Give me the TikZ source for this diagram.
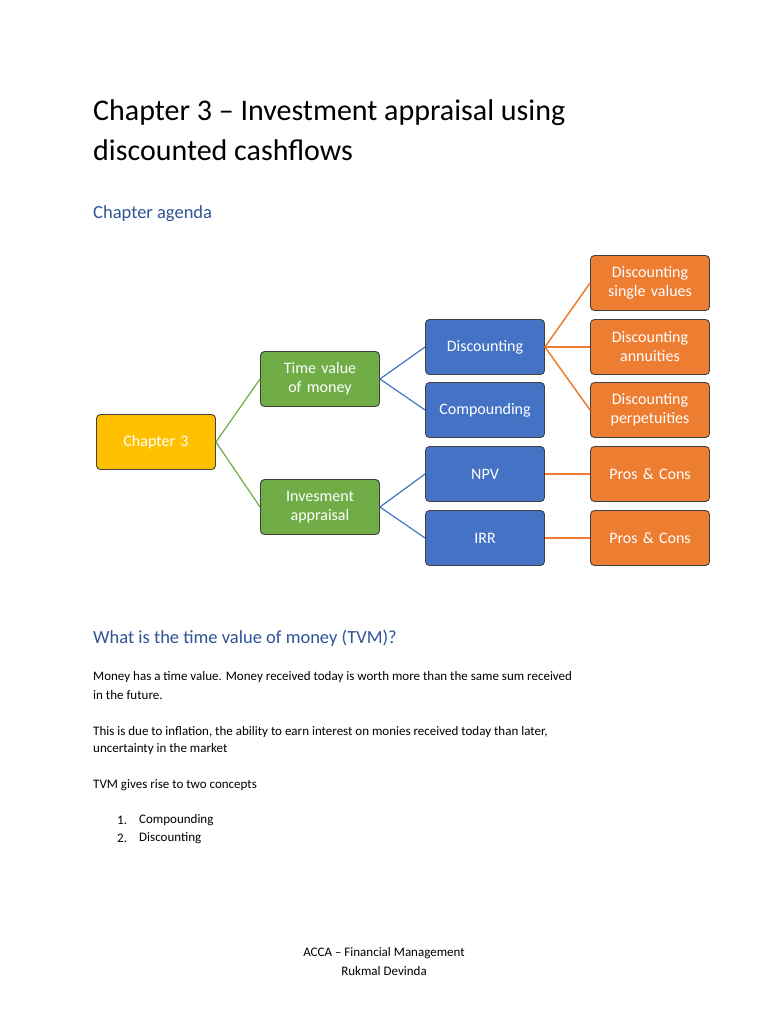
\documentclass[tikz,border=0pt]{standalone}
\usepackage{fontspec}
\setmainfont{Carlito}
\begin{document}
\begin{tikzpicture}[x=1pt,y=-1pt,
  box/.style={draw=black!75,line width=0.9pt,rounded corners=4pt,minimum width=119pt,minimum height=55pt,
    text width=112pt,align=center,text=white,font=\fontsize{16}{19}\selectfont,inner sep=1pt},
  yel/.style={box,fill=yellow!60!orange!95!white},
  grn/.style={box,fill={rgb,255:red,112;green,173;blue,71}},
  blu/.style={box,fill={rgb,255:red,68;green,114;blue,196}},
  org/.style={box,fill={rgb,255:red,237;green,125;blue,49}},
  gl/.style={draw={rgb,255:red,112;green,173;blue,71},line width=1.2pt},
  bl/.style={draw={rgb,255:red,68;green,114;blue,196},line width=1.2pt},
  ol/.style={draw={rgb,255:red,237;green,125;blue,49},line width=1.5pt},
  body/.style={anchor=west,font=\fontsize{13}{16}\selectfont,inner sep=0pt},
  head/.style={anchor=west,font=\fontsize{18.5}{22}\selectfont,text={rgb,255:red,47;green,84;blue,150},inner sep=0pt}]
\useasboundingbox[fill=white] (0,0) rectangle (768,1024);
\node[anchor=west,font=\fontsize{30}{40}\selectfont,align=left,inner sep=0pt] (title) at (93,130) {Chapter 3 – Investment appraisal using\\discounted cashflows};
\node[head] (agenda) at (93,214) {Chapter agenda};
\node[box,fill={rgb,255:red,255;green,192;blue,0}] (c3) at (156,442) {Chapter 3};
\node[grn] (tvm) at (320,379) {Time value of money};
\node[grn] (inv) at (320,507) {Invesment appraisal};
\node[blu] (disc) at (485,347) {Discounting};
\node[blu] (comp) at (485,410) {Compounding};
\node[blu] (npv) at (485,474) {NPV};
\node[blu] (irr) at (485,538) {IRR};
\node[org] (d1) at (650,283) {Discounting single values};
\node[org] (d2) at (650,347) {Discounting annuities};
\node[org] (d3) at (650,410) {Discounting perpetuities};
\node[org] (p1) at (650,474) {Pros \& Cons};
\node[org] (p2) at (650,538) {Pros \& Cons};
\draw[gl] (c3.east) -- (tvm.west);
\draw[gl] (c3.east) -- (inv.west);
\draw[bl] (tvm.east) -- (disc.west);
\draw[bl] (tvm.east) -- (comp.west);
\draw[bl] (inv.east) -- (npv.west);
\draw[bl] (inv.east) -- (irr.west);
\draw[ol] (disc.east) -- (d1.west);
\draw[ol] (disc.east) -- (d2.west);
\draw[ol] (disc.east) -- (d3.west);
\draw[ol] (npv.east) -- (p1.west);
\draw[ol] (irr.east) -- (p2.west);
\node[head] (h2) at (93,638) {What is the time value of money (TVM)?};
\node[body] (t1) at (93,677) {Money has a time value. Money received today is worth more than the same sum received};
\node[body] (t2) at (93,695) {in the future.};
\node[body] (t3) at (93,732) {This is due to inflation, the ability to earn interest on monies received today than later,};
\node[body] (t4) at (93,749) {uncertainty in the market};
\node[body] (t5) at (93,785) {TVM gives rise to two concepts};
\node[body] (l1) at (117,820) {1.};
\node[body] (l1t) at (139,820) {Compounding};
\node[body] (l2) at (117,838) {2.};
\node[body] (l2t) at (139,838) {Discounting};
\node[font=\fontsize{13}{16}\selectfont,inner sep=0pt] (f1) at (384,953) {ACCA – Financial Management};
\node[font=\fontsize{13}{16}\selectfont,inner sep=0pt] (f2) at (384,971) {Rukmal Devinda};
\end{tikzpicture}
\end{document}
